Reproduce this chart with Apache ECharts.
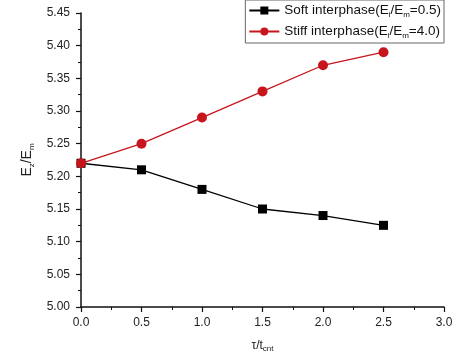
<!DOCTYPE html>
<html><head><meta charset="utf-8">
<script src="https://cdn.jsdelivr.net/npm/echarts@6/dist/echarts.min.js"></script>
<style>html,body{margin:0;padding:0;background:#fff}#c{width:474px;height:363px}</style>
</head><body><div id="c"></div>
<script>
const xValues = [0.0, 0.5, 1.0, 1.5, 2.0, 2.5];
const softValues = [5.22, 5.21, 5.18, 5.15, 5.14, 5.125];
const stiffValues = [5.22, 5.25, 5.29, 5.33, 5.37, 5.39];
const seriesNames = ['Soft interphase', 'Stiff interphase'];

const F = '"Liberation Sans", Arial, sans-serif';
const chart = echarts.init(document.getElementById('c'));
const rich = {
  a: {fontFamily: F, fontSize: 13.5, color: '#111', lineHeight: 17},
  s: {fontFamily: F, fontSize: 8, color: '#111', padding: [9, 0, 0, 0], lineHeight: 17}
};
chart.setOption({
  animation: false,
  grid: {left: 81, right: 30, top: 13, bottom: 56},
  legend: {
    orient: 'vertical', right: 30, top: 0,
    backgroundColor: '#fff', borderColor: '#666', borderWidth: 1,
    padding: [2, 3, 3, 3], itemGap: 4, itemWidth: 30, itemHeight: 10,
    formatter: function (n) {
      if (n === seriesNames[0]) return '{a|Soft interphase(E}{s|i}{a|/E}{s|m}{a|=0.5)}';
      return '{a|Stiff interphase(E}{s|i}{a|/E}{s|m}{a|=4.0)}';
    },
    textStyle: {rich: rich}
  },
  xAxis: {
    type: 'value', min: 0, max: 3, interval: 0.5,
    name: '{a|τ/t}{s|cnt}', nameLocation: 'middle', nameGap: 31,
    nameTextStyle: {rich: {a: {fontFamily: F, fontSize: 12, color: '#222'}, s: {fontFamily: F, fontSize: 8, color: '#222', padding: [7, 0, 0, 0]}}},
    axisLine: {lineStyle: {color: '#111', width: 1.5}},
    axisTick: {inside: false, length: 5, lineStyle: {color: '#111', width: 1.2}},
    minorTick: {show: true, splitNumber: 2, length: 3, lineStyle: {color: '#111', width: 1}},
    axisLabel: {fontFamily: F, fontSize: 12, color: '#222', margin: 10, formatter: v => v.toFixed(1)},
    splitLine: {show: false}
  },
  yAxis: {
    type: 'value', min: 5.0, max: 5.45, interval: 0.05,
    name: '{a|E}{s|z}{a|/E}{s|m}', nameLocation: 'middle', nameGap: 45, nameRotate: 90,
    nameTextStyle: {rich: {a: {fontFamily: F, fontSize: 14, color: '#222'}, s: {fontFamily: F, fontSize: 8, color: '#222', padding: [9, 0, 0, 0]}}},
    axisLine: {show: true, lineStyle: {color: '#111', width: 1.5}},
    axisTick: {show: true, inside: false, length: 5, lineStyle: {color: '#111', width: 1.2}},
    minorTick: {show: true, splitNumber: 2, length: 3, lineStyle: {color: '#111', width: 1}},
    axisLabel: {fontFamily: F, fontSize: 12, color: '#222', margin: 11, formatter: v => v.toFixed(2)},
    splitLine: {show: false}
  },
  series: [
    {name: seriesNames[0], type: 'line', data: xValues.map((x, i) => [x, softValues[i]]),
     symbol: 'rect', symbolSize: 9, color: '#000', lineStyle: {width: 1.3, color: '#000'}, itemStyle: {color: '#000'}},
    {name: seriesNames[1], type: 'line', data: xValues.map((x, i) => [x, stiffValues[i]]),
     symbol: 'circle', symbolSize: 10, color: '#c8151d', lineStyle: {width: 1.3, color: '#c8151d'}, itemStyle: {color: '#c8151d'}}
  ]
});
</script></body></html>
